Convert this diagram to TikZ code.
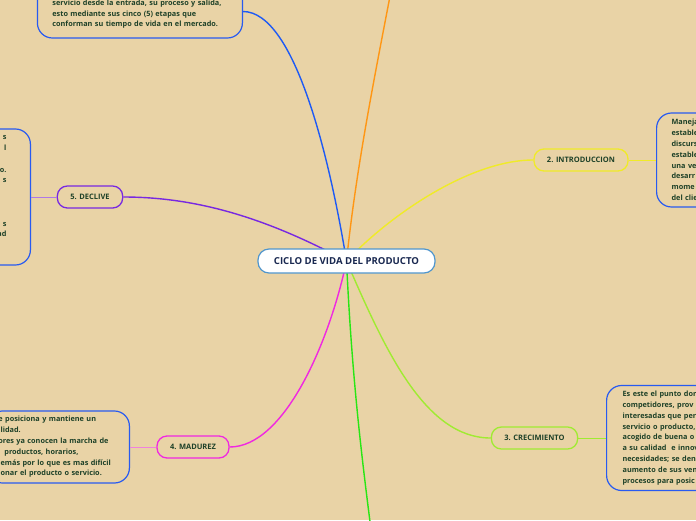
\documentclass[tikz,border=0pt]{standalone}
\usepackage{fontspec}
\setmainfont{Open Sans}
\usetikzlibrary{backgrounds}
\definecolor{paper}{RGB}{233,211,166}
\definecolor{rootbl}{RGB}{80,150,205}
\definecolor{rootink}{RGB}{25,40,80}
\definecolor{leaf}{RGB}{30,65,40}
\definecolor{notebl}{RGB}{40,90,240}
\definecolor{bluebr}{RGB}{30,90,245}
\definecolor{orangebr}{RGB}{255,150,20}
\definecolor{introc}{RGB}{240,235,40}
\definecolor{declc}{RGB}{120,40,225}
\definecolor{declt}{RGB}{175,120,230}
\definecolor{madc}{RGB}{240,40,225}
\definecolor{madt}{RGB}{240,130,220}
\definecolor{greenbr}{RGB}{40,230,20}
\definecolor{crecc}{RGB}{160,235,50}
\begin{document}
\begin{tikzpicture}[x=1pt,y=-1pt,
    topic/.style={draw,rounded corners=10pt,line width=1.3pt,inner xsep=13pt,minimum height=22pt,font=\bfseries\fontsize{7.5}{8}\selectfont,text=leaf},
    note/.style={draw=notebl,rounded corners=15pt,line width=1.2pt,font=\bfseries\fontsize{7.3}{10.8}\selectfont,text=leaf},
    branch/.style={line width=1.4pt},
    twig/.style={line width=1pt}]
\useasboundingbox (0,0) rectangle (696,520);
\clip (0,0) rectangle (696,520);
\path
    (346.5,261) node[draw=rootbl,fill=white,rounded corners=11pt,line width=1.2pt,minimum width=177pt,minimum height=24pt,font=\bfseries\fontsize{9.6}{11}\selectfont,text=rootink](root) {CICLO DE VIDA DEL PRODUCTO}
    (581,160) node[topic,draw=introc](intro) {2. INTRODUCCION}
    (534.5,438) node[topic,draw=crecc](crec) {3. CRECIMIENTO}
    (193,447) node[topic,draw=madc](mad) {4. MADUREZ}
    (90,197) node[topic,draw=declc](decl) {5. DECLIVE}
    (243,11.5) node[note,anchor=east,text width=175pt,align=left,inner xsep=15pt,minimum height=53pt](defin) {\mbox{}\\servicio desde la entrada, su proceso y salida,\\esto mediante sus cinco (5) etapas que\\conforman su tiempo de vida en el mercado.}
    (656,160) node[note,anchor=west,text width=120pt,align=left,inner xsep=15pt,minimum height=94pt](introbox) {Maneja\\estable\\discurs\\estable\\una ve\\desarr\\mome\\del clie}
    (606,438) node[note,anchor=west,text width=140pt,align=left,inner xsep=16pt,minimum height=105pt](crecbox) {Es este el punto dor\\competidores, prov\\interesadas que per\\servicio o producto,\\acogido de buena o\\a su calidad~ e innov\\necesidades; se den\\aumento de sus ven\\procesos para posic}
    (130,447) node[note,anchor=east,text width=120pt,align=left,inner xsep=11pt,minimum height=72pt](madbox) {e posiciona y mantiene un\\ilidad.\\ores ya conocen la marcha de\\\hspace*{6pt}productos, horarios,\\lemás por lo que es mas difícil\\ionar el producto o servicio.}
    (31,197) node[note,anchor=east,text width=60pt,align=right,inner xsep=24pt,minimum height=136pt](declbox) {s\\l\\\mbox{}\\o.\\s\\\mbox{}\\\mbox{}\\\mbox{}\\s\\ad\\\mbox{}\\\mbox{}};
\coordinate (upend) at (395,-30);
\coordinate (downend) at (373,545);
\begin{scope}[on background layer]
    \clip (0,0) rectangle (696,520);
    \fill[paper] (0,0) rectangle (696,520);
    \draw[branch,bluebr] (root.center) .. controls (330,160) and (295,11.5) .. (defin.east);
    \draw[branch,orangebr] (root.center) .. controls (357,160) and (378,60) .. (upend);
    \draw[branch,introc] (root.center) .. controls (390,215) and (470,160) .. (intro.west);
    \draw[branch,declc] (root.center) .. controls (270,220) and (200,197) .. (decl.east);
    \draw[branch,madc] (root.center) .. controls (330,340) and (285,447) .. (mad.east);
    \draw[branch,greenbr] (root.center) .. controls (352,380) and (362,460) .. (downend);
    \draw[branch,crecc] (root.center) .. controls (385,350) and (425,438) .. (crec.west);
\end{scope}
\draw[twig,introc] (intro.east) -- (introbox.west);
\draw[twig,crecc] (crec.east) -- (crecbox.west);
\draw[twig,madt] (mad.west) -- (madbox.east);
\draw[twig,declt] (decl.west) -- (declbox.east);
\end{tikzpicture}
\end{document}
